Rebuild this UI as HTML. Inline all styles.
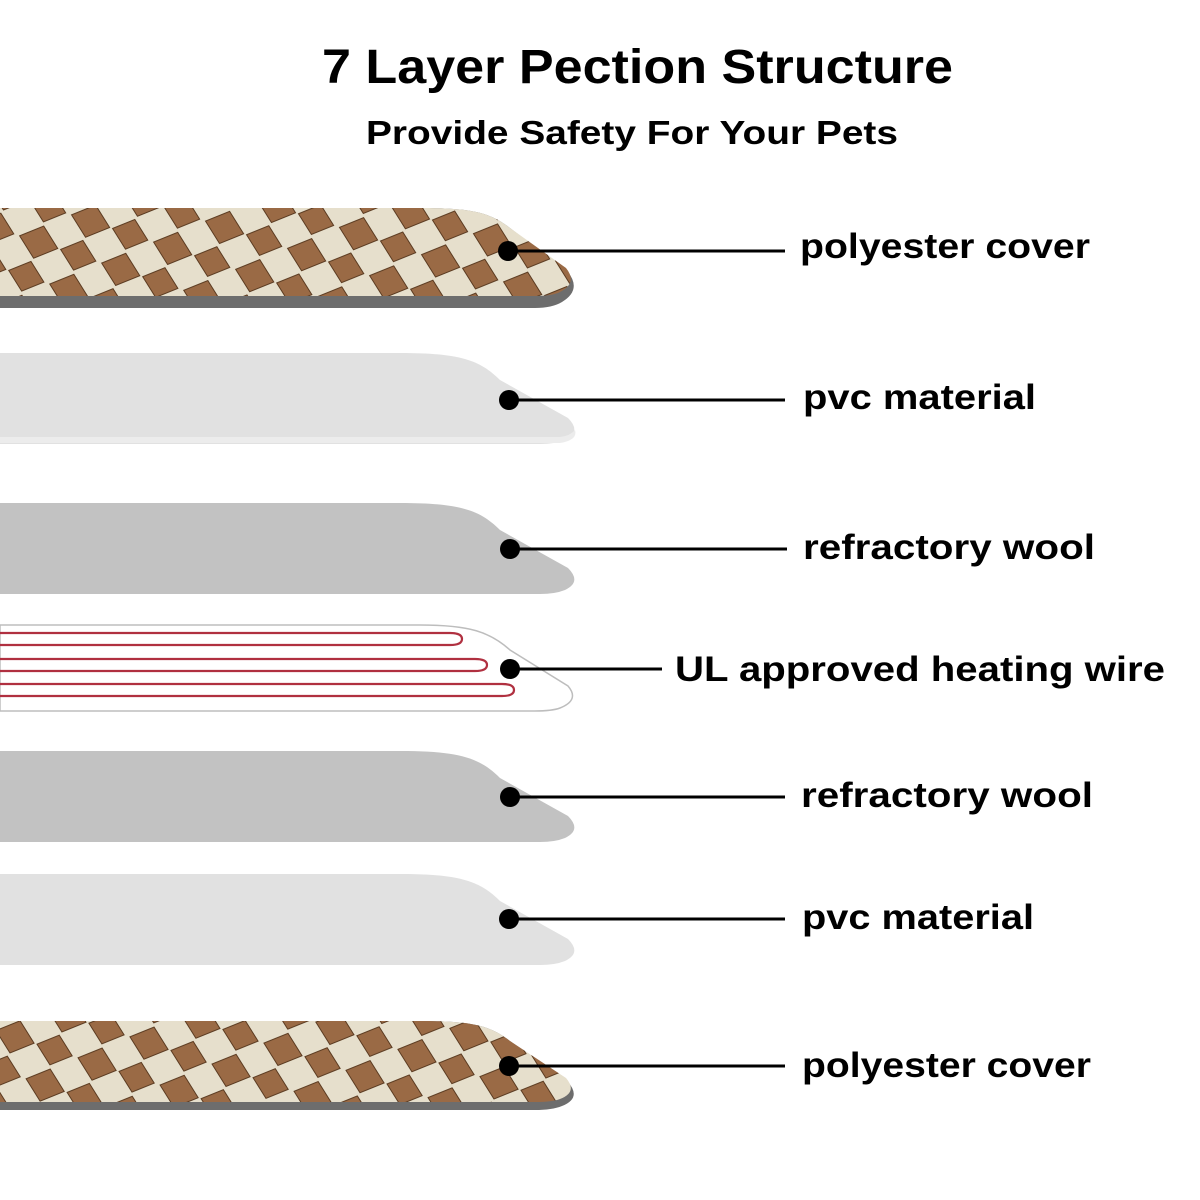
<!DOCTYPE html>
<html><head><meta charset="utf-8"><style>
html,body{margin:0;padding:0;background:#fff;}
svg{display:block;}
</style></head><body>
<svg width="1200" height="1200" viewBox="0 0 1200 1200" xmlns="http://www.w3.org/2000/svg">
<defs>
<pattern id="chk" width="56" height="56" patternUnits="userSpaceOnUse" patternTransform="rotate(-22) skewX(10)">
<rect width="56" height="56" fill="#e6dfcc"/>
<rect x="2" y="2" width="26" height="26" fill="#9a6a45" stroke="#5a3a20" stroke-width="1"/>
<rect x="30" y="30" width="24" height="24" fill="#9a6a45" stroke="#5a3a20" stroke-width="1"/>
</pattern>
</defs>
<g font-family="Liberation Sans, sans-serif" font-weight="bold" fill="#000">
<text x="322" y="83" font-size="48" textLength="631" lengthAdjust="spacingAndGlyphs">7 Layer Pection Structure</text>
<text x="366" y="144" font-size="33" textLength="532" lengthAdjust="spacingAndGlyphs">Provide Safety For Your Pets</text>
</g>

<!-- layer1 -->
<path d="M0 208 H420 C470 208 490 212 510 228 L568 272 Q582 290 562 302 Q552 308 535 308 H0 Z" fill="#6d6d6d"/>
<path d="M0 208 H420 C470 208 490 212 510 228 L566 268 Q578 283 560 292 Q552 296 535 296 H0 Z" fill="url(#chk)"/>
<!-- layer2 -->
<path d="M0 353 H400 C460 353 480 360 500 380 L568 418 Q582 432 565 440 Q555 444 540 444 H0 Z" fill="#e1e1e1"/>
<path d="M0 437 H560 Q570 436 575 430 Q578 440 560 443 H0Z" fill="#ececec"/>
<!-- layer3 -->
<path d="M0 503 H400 C460 503 480 510 500 530 L568 568 Q582 582 565 590 Q555 594 540 594 H0 Z" fill="#c2c2c2"/>
<!-- layer4 -->
<path d="M0 625 H420 C470 625 490 632 510 650 L568 686 Q580 700 560 708 Q552 711 535 711 H0 Z" fill="#fff" stroke="#bdbdbd" stroke-width="1.5"/>
<g fill="none" stroke="#b03040" stroke-width="2.2">
<path d="M0 633 H450 Q462 633 462 639 Q462 645 450 645 H0"/>
<path d="M0 659 H475 Q487 659 487 665 Q487 671 475 671 H0"/>
<path d="M0 684 H502 Q514 684 514 690 Q514 696 502 696 H0"/>
</g>
<!-- layer5 -->
<path d="M0 751 H400 C460 751 480 758 500 778 L568 816 Q582 830 565 838 Q555 842 540 842 H0 Z" fill="#c2c2c2"/>
<!-- layer6 -->
<path d="M0 874 H400 C460 874 480 881 500 901 L568 939 Q582 953 565 961 Q555 965 540 965 H0 Z" fill="#e1e1e1"/>
<!-- layer7 -->
<path d="M0 1021 H420 C470 1021 490 1025 510 1041 L568 1082 Q582 1098 562 1106 Q552 1110 535 1110 H0 Z" fill="#6d6d6d"/>
<path d="M0 1021 H420 C470 1021 490 1025 510 1041 L566 1078 Q578 1092 560 1099 Q552 1102 535 1102 H0 Z" fill="url(#chk)"/>

<g stroke="#000" stroke-width="3">
<line x1="508" y1="251" x2="785" y2="251"/>
<line x1="508" y1="400" x2="785" y2="400"/>
<line x1="508" y1="549" x2="787" y2="549"/>
<line x1="508" y1="669" x2="662" y2="669"/>
<line x1="508" y1="797" x2="785" y2="797"/>
<line x1="508" y1="919" x2="785" y2="919"/>
<line x1="508" y1="1066" x2="785" y2="1066"/>
</g>
<g fill="#000">
<circle cx="508" cy="251" r="10"/><circle cx="509" cy="400" r="10"/><circle cx="510" cy="549" r="10"/>
<circle cx="510" cy="669" r="10"/><circle cx="510" cy="797" r="10"/><circle cx="509" cy="919" r="10"/><circle cx="509" cy="1066" r="10"/>
</g>
<g font-family="Liberation Sans, sans-serif" font-weight="bold" font-size="35" fill="#000" lengthAdjust="spacingAndGlyphs">
<text x="800" y="258" textLength="290" lengthAdjust="spacingAndGlyphs">polyester cover</text>
<text x="803" y="409" textLength="233" lengthAdjust="spacingAndGlyphs">pvc material</text>
<text x="803" y="559" textLength="292" lengthAdjust="spacingAndGlyphs">refractory wool</text>
<text x="675" y="681" textLength="490" lengthAdjust="spacingAndGlyphs">UL approved heating wire</text>
<text x="801" y="807" textLength="292" lengthAdjust="spacingAndGlyphs">refractory wool</text>
<text x="802" y="929" textLength="232" lengthAdjust="spacingAndGlyphs">pvc material</text>
<text x="802" y="1077" textLength="289" lengthAdjust="spacingAndGlyphs">polyester cover</text>
</g>
</svg>
</body></html>
